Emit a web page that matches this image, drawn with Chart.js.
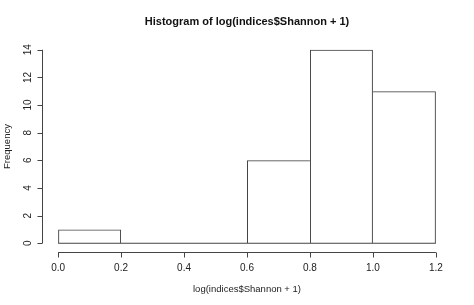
<!DOCTYPE html>
<html>
<head>
<meta charset="utf-8">
<script src="https://cdn.jsdelivr.net/npm/chart.js@4"></script>
<style>
  html, body { margin: 0; padding: 0; background: #fff; }
  #wrap { width: 474px; height: 305px; }
</style>
</head>
<body>
<div id="wrap"><canvas id="hist"></canvas></div>
<script>
// histogram bins (R hist breaks) and counts
const breaks = [0, 0.2, 0.4, 0.6, 0.8, 1.0, 1.2];
const counts = [1, 0, 0, 6, 14, 11];
const xTicks = [0, 0.2, 0.4, 0.6, 0.8, 1.0, 1.2];
const yTicks = [0, 2, 4, 6, 8, 10, 12, 14];

const titleText = 'Histogram of log(indices$Shannon + 1)';
const xTitle = 'log(indices$Shannon + 1)';
const yTitle = 'Frequency';

const lineCol = '#444';
const fontFam = '"Liberation Sans", Arial, sans-serif';

const barData = counts.map(function (c, i) {
  return { x: (breaks[i] + breaks[i + 1]) / 2, y: c };
});

// shared edges between bins are drawn once, by the taller bar
function binBorder(ctx) {
  const i = ctx.dataIndex;
  const n = counts.length;
  return {
    top: 1,
    bottom: 0,
    left: (i === 0 || counts[i - 1] < counts[i]) ? 1 : 0,
    right: (i === n - 1 || counts[i + 1] <= counts[i]) ? 1 : 0
  };
}

// R-style axes drawn from the scales
const rAxes = {
  id: 'rAxes',
  afterDraw: function (chart) {
    const ctx = chart.ctx;
    const xs = chart.scales.x, ys = chart.scales.y;
    const area = chart.chartArea;
    ctx.save();
    ctx.strokeStyle = lineCol;
    ctx.fillStyle = '#222';
    ctx.lineWidth = 1;

    // x axis
    const ay = Math.round(area.bottom) + 1.5;
    const x0 = xs.getPixelForValue(xTicks[0]);
    const x1 = xs.getPixelForValue(xTicks[xTicks.length - 1]);
    ctx.beginPath();
    ctx.moveTo(x0, ay); ctx.lineTo(x1, ay);
    xTicks.forEach(function (t) {
      const px = Math.round(xs.getPixelForValue(t)) + 0.5;
      ctx.moveTo(px, ay); ctx.lineTo(px, ay + 5);
    });
    ctx.stroke();
    ctx.font = '10px ' + fontFam;
    ctx.textAlign = 'center';
    ctx.textBaseline = 'middle';
    xTicks.forEach(function (t) {
      ctx.fillText(t.toFixed(1), xs.getPixelForValue(t), ay + 16);
    });

    // y axis
    const ax = Math.round(area.left) - 0.5;
    const y0 = ys.getPixelForValue(yTicks[0]);
    const y1 = ys.getPixelForValue(yTicks[yTicks.length - 1]);
    ctx.beginPath();
    ctx.moveTo(ax, y0); ctx.lineTo(ax, y1);
    yTicks.forEach(function (t) {
      const py = Math.round(ys.getPixelForValue(t)) + 0.5;
      ctx.moveTo(ax, py); ctx.lineTo(ax - 5, py);
    });
    ctx.stroke();
    yTicks.forEach(function (t) {
      ctx.save();
      ctx.translate(ax - 14, ys.getPixelForValue(t));
      ctx.rotate(-Math.PI / 2);
      ctx.fillText(String(t), 0, 0);
      ctx.restore();
    });

    // titles
    const cx = (area.left + area.right) / 2;
    ctx.font = '9.5px ' + fontFam;
    ctx.fillText(xTitle, cx, ay + 37);
    ctx.save();
    ctx.translate(7, (area.top + area.bottom) / 2);
    ctx.rotate(-Math.PI / 2);
    ctx.fillText(yTitle, 0, 0);
    ctx.restore();
    ctx.font = 'bold 11px ' + fontFam;
    ctx.fillStyle = '#111';
    ctx.fillText(titleText, cx, 22);
    ctx.restore();
  }
};

new Chart(document.getElementById('hist'), {
  data: {
    datasets: [{
      // baseline under empty bins
      type: 'line',
      data: [{ x: breaks[0], y: 0 }, { x: breaks[breaks.length - 1], y: 0 }],
      borderColor: lineCol,
      borderWidth: 1,
      pointRadius: 0
    }, {
      type: 'bar',
      data: barData,
      backgroundColor: 'rgba(255,255,255,0)',
      borderColor: lineCol,
      borderWidth: binBorder,
      borderSkipped: false,
      inflateAmount: 0,
      barPercentage: 1,
      categoryPercentage: 1,
      grouped: false
    }]
  },
  options: {
    responsive: true,
    maintainAspectRatio: false,
    animation: false,
    layout: { padding: { left: 43, right: 23, top: 42, bottom: 54 } },
    plugins: { legend: { display: false }, tooltip: { enabled: false } },
    scales: {
      x: { type: 'linear', min: -0.048, max: 1.248, offset: false, display: false },
      y: { type: 'linear', min: -0.56, max: 14.56, display: false }
    }
  },
  plugins: [rAxes]
});
</script>
</body>
</html>
